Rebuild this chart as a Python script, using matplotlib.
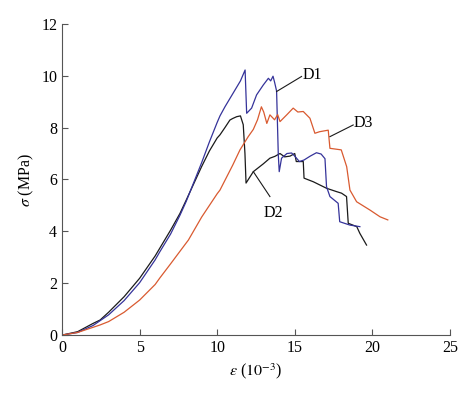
import matplotlib
matplotlib.use("Agg")
import matplotlib.pyplot as plt

plt.rcParams["font.family"] = ["Liberation Serif", "DejaVu Serif"]
plt.rcParams["mathtext.fontset"] = "stix"

# ---- data (strain 1e-3, stress MPa) ----
d1_x = [0, 1, 2, 3, 4, 5, 6, 6.3, 7, 7.6, 8, 8.5, 9, 9.5, 10, 10.18, 10.5, 11,
        11.5, 11.8, 11.9, 12.22, 12.54, 12.97, 13.3, 13.45, 13.6, 13.7, 13.83,
        13.94, 14.0, 14.15, 14.5, 14.8, 15.0, 15.3, 15.6, 16.0, 16.4, 16.7,
        16.95, 17.05, 17.27, 17.8, 17.9, 18.56, 19.2]
d1_y = [0, 0.1, 0.37, 0.78, 1.33, 2.02, 2.9, 3.21, 3.9, 4.62, 5.15, 5.9, 6.65,
        7.45, 8.2, 8.45, 8.8, 9.3, 9.8, 10.22, 8.55, 8.75, 9.26, 9.64, 9.9, 9.8,
        9.98, 9.75, 9.41, 6.95, 6.3, 6.82, 7.0, 7.02, 6.9, 6.69, 6.75, 6.9, 7.03,
        6.98, 6.8, 5.72, 5.34, 5.08, 4.37, 4.24, 4.18]

d2_x = [0, 1, 2, 2.45, 3, 4, 5, 6, 6.3, 7, 7.6, 8, 8.5, 9, 9.5, 10, 10.18, 10.5,
        10.82, 11.0, 11.26, 11.5, 11.68, 11.79, 11.86, 12.33, 12.97, 13.4, 13.72,
        14.05, 14.35, 14.7, 15.0, 15.1, 15.55, 15.6, 16.2, 17.05, 17.7, 18.02,
        18.34, 18.45, 19.0, 19.2, 19.63]
d2_y = [0, 0.13, 0.45, 0.58, 0.88, 1.48, 2.19, 3.05, 3.35, 4.05, 4.69, 5.2, 5.85,
        6.5, 7.1, 7.6, 7.72, 8.0, 8.29, 8.35, 8.42, 8.45, 8.11, 7.0, 5.86, 6.3,
        6.6, 6.82, 6.89, 7.0, 6.87, 6.9, 7.0, 6.69, 6.69, 6.05, 5.91, 5.66, 5.53,
        5.47, 5.34, 4.31, 4.18, 3.92, 3.47]

d3_x = [0, 1, 2, 2.45, 3, 4, 5, 6, 6.3, 7, 7.5, 8, 8.14, 9, 10, 10.18, 11, 11.47,
        12, 12.33, 12.6, 12.85, 13.0, 13.2, 13.4, 13.7, 13.9, 14.05, 14.5, 14.9,
        15.2, 15.55, 15.98, 16.3, 16.6, 17.16, 17.27, 18.0, 18.35, 18.56, 18.99,
        19.85, 20.5, 21.0]
d3_y = [0, 0.1, 0.3, 0.39, 0.52, 0.88, 1.35, 1.95, 2.2, 2.75, 3.15, 3.55, 3.66,
        4.55, 5.45, 5.59, 6.55, 7.14, 7.65, 7.93, 8.3, 8.8, 8.6, 8.16, 8.49, 8.3,
        8.5, 8.23, 8.5, 8.75, 8.6, 8.62, 8.36, 7.78, 7.84, 7.9, 7.2, 7.14, 6.49,
        5.59, 5.14, 4.82, 4.56, 4.44]

# ---- plot ----
fig = plt.figure(figsize=(4.74, 3.97), dpi=100)
ax = fig.add_axes([0.131, 0.156, 0.818, 0.784])

ax.plot(d2_x, d2_y, color="#1a1a1a", lw=0.9)
ax.plot(d1_x, d1_y, color="#35339a", lw=0.9)
ax.plot(d3_x, d3_y, color="#d95a30", lw=0.9)

# labels with leader lines
ax.plot([13.83, 15.44], [9.39, 9.97], color="#1a1a1a", lw=0.8)
ax.text(15.5, 10.03, "D1", fontsize=11.5, va="center", ha="left")
ax.plot([17.27, 18.77], [7.65, 8.1], color="#1a1a1a", lw=0.8)
ax.text(18.8, 8.17, "D3", fontsize=11.5, va="center", ha="left")
ax.plot([12.33, 13.4], [6.3, 5.34], color="#1a1a1a", lw=0.8)
ax.text(13.6, 5.0, "D2", fontsize=11.5, va="top", ha="center")

ax.set_xlim(0, 25)
ax.set_ylim(0, 12)
ax.set_xticks([0, 5, 10, 15, 20, 25])
ax.set_yticks([0, 2, 4, 6, 8, 10, 12])
ax.set_xlabel(r"$\varepsilon$ ($10^{-3}$)", fontsize=11.5)
ax.set_ylabel(r"$\sigma$ (MPa)", fontsize=11.5)

for s in ["top", "right"]:
    ax.spines[s].set_visible(False)
for s in ["left", "bottom"]:
    ax.spines[s].set_color("#555555")
ax.tick_params(direction="in", length=4, color="#555555", labelsize=11.5)

fig.savefig("out.png", dpi=100)
